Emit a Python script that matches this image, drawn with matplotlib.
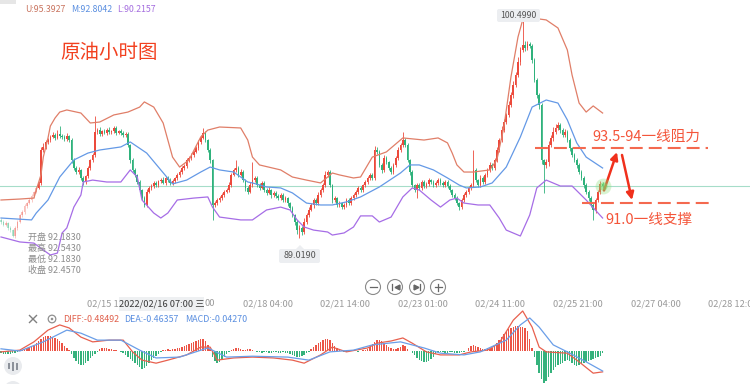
import matplotlib
matplotlib.use("Agg")
import matplotlib.pyplot as plt
from matplotlib.colors import to_rgba
from matplotlib.patches import Circle, Rectangle, Polygon, FancyBboxPatch
from matplotlib.transforms import blended_transform_factory
import numpy as np

plt.rcParams['font.family'] = ['Noto Sans CJK SC', 'DejaVu Sans']

## hourly candles (crude oil), opens follow previous close
first_open = 89.95
closes = [
    89.85, 89.70, 89.80, 89.54, 89.43, 89.12, 89.54, 89.85, 90.22, 90.37,
    90.69, 90.84, 91.00, 91.21, 91.42, 91.63, 91.89, 93.61, 93.77, 94.03,
    94.13, 94.29, 94.39, 94.24, 94.45, 94.34, 94.29, 94.18, 94.34, 94.13,
    93.09, 92.67, 92.46, 92.57, 92.15, 91.94, 92.25, 92.67, 93.09, 93.35,
    94.55, 94.65, 94.45, 94.60, 94.50, 94.65, 94.55, 94.60, 94.76, 94.50,
    94.60, 94.50, 94.39, 94.45, 93.87, 93.09, 92.57, 92.31, 91.94, 91.52,
    91.10, 90.74, 91.42, 91.63, 91.73, 91.89, 91.78, 91.99, 92.04, 91.89,
    92.15, 92.04, 91.89, 91.99, 92.15, 92.31, 92.46, 92.67, 92.77, 93.09,
    93.19, 93.35, 93.51, 93.71, 94.03, 94.24, 94.50, 94.13, 93.61, 93.09,
    90.74, 90.84, 91.00, 91.10, 91.26, 91.42, 91.52, 91.78, 92.31, 92.57,
    92.67, 92.31, 92.46, 92.04, 91.63, 91.42, 91.78, 92.04, 92.15, 91.78,
    91.63, 91.89, 91.52, 91.37, 91.52, 91.26, 91.37, 91.21, 91.10, 91.26,
    91.00, 91.10, 90.84, 90.58, 90.22, 89.85, 89.43, 89.54, 89.33, 89.85,
    90.22, 90.48, 90.74, 91.00, 90.84, 91.26, 91.52, 91.78, 92.31, 92.46,
    91.78, 91.00, 91.10, 90.74, 90.84, 90.63, 90.74, 91.00, 90.84, 91.10,
    91.26, 91.42, 91.63, 91.52, 91.78, 91.94, 92.15, 92.31, 92.15, 93.61,
    93.51, 92.83, 92.57, 93.19, 92.98, 92.67, 92.46, 92.83, 93.19, 93.61,
    93.87, 94.13, 93.87, 93.09, 92.46, 91.78, 91.52, 91.78, 91.63, 91.94,
    91.73, 91.84, 92.04, 91.94, 91.78, 91.89, 92.04, 91.89, 91.78, 91.94,
    91.73, 91.52, 91.26, 91.10, 90.84, 90.63, 91.00, 91.26, 91.42, 91.63,
    91.78, 92.57, 92.04, 91.78, 92.15, 91.94, 92.31, 92.57, 92.83, 92.67,
    93.09, 93.61, 94.13, 94.65, 95.07, 95.44, 95.96, 96.48, 97.00, 97.53,
    98.20, 98.83, 99.09, 98.93, 99.14, 99.04, 98.31, 97.26, 96.48, 95.96,
    93.09, 92.83, 92.98, 93.87, 94.24, 94.55, 94.76, 94.92, 94.65, 94.39,
    94.55, 94.13, 93.71, 93.35, 93.09, 92.83, 92.46, 92.15, 91.78, 91.42,
    91.10, 90.74, 90.48, 91.00, 91.42, 91.84, 91.73]
wick_hi = [
    .10, .08, .10, .05, .08, .05, .10, .08, .05, .10,
    .08, .05, .10, .08, .05, .10, .08, .15, .20, .10,
    .12, .10, .15, .10, .20, .42, .10, .08, .15, .05,
    .10, .08, .10, .15, .05, .10, .08, .10, .05, .10,
    .83, .10, .15, .08, .12, .10, .15, .08, .10, .10,
    .08, .12, .10, .08, .10, .05, .10, .08, .05, .10,
    .08, .10, .15, .10, .08, .12, .10, .08, .10, .15,
    .10, .08, .12, .10, .05, .08, .10, .08, .10, .12,
    .10, .08, .10, .12, .10, .15, .26, .10, .08, .10,
    .05, .10, .08, .12, .10, .08, .10, .15, .10, .12,
    .42, .10, .15, .10, .08, .10, .15, .94, .10, .08,
    .10, .12, .08, .10, .15, .05, .10, .08, .10, .12,
    .08, .10, .05, .08, .10, .05, .10, .15, .10, .20,
    .10, .15, .12, .10, .08, .15, .10, .12, .20, .11,
    .10, .08, .10, .05, .12, .08, .10, .12, .08, .10,
    .08, .10, .12, .10, .08, .10, .12, .10, .08, .20,
    .15, .10, .08, .15, .10, .08, .10, .12, .10, .15,
    .10, .42, .10, .08, .05, .10, .08, .12, .10, .10,
    .08, .10, .12, .08, .10, .08, .10, .12, .08, .10,
    .08, .10, .05, .08, .10, .05, .12, .10, .08, .10,
    .12, 1.04, .10, .08, .15, .10, .12, .10, .15, .10,
    .12, .15, .10, .20, .15, .12, .20, .15, .20, .15,
    .25, .15, 1.41, .20, .15, .12, .10, .08, .10, .08,
    .10, .05, .15, .20, .15, .25, .20, .15, .10, .12,
    .15, .10, .12, .08, .10, .12, .08, .10, .08, .10,
    .08, .10, .15, .12, .10, .15, .10]
wick_lo = [
    .10, .08, .05, .10, .08, .05, .10, .08, .05, .10,
    .08, .10, .05, .08, .10, .05, .08, .10, .08, .10,
    .10, .08, .05, .10, .08, .10, .08, .12, .10, .08,
    .15, .10, .12, .08, .10, .15, .10, .08, .10, .12,
    .10, .08, .10, .12, .08, .10, .08, .10, .12, .10,
    .08, .10, .12, .08, .10, .15, .10, .12, .10, .15,
    .10, .12, .10, .08, .10, .12, .08, .10, .12, .08,
    .10, .08, .12, .10, .08, .10, .12, .08, .10, .08,
    .10, .08, .10, .08, .12, .10, .08, .10, .12, .15,
    .78, .12, .10, .08, .12, .10, .08, .10, .12, .08,
    .10, .12, .08, .10, .15, .10, .08, .10, .12, .10,
    .12, .08, .10, .12, .08, .15, .10, .12, .08, .10,
    .12, .10, .15, .10, .12, .15, .20, .41, .15, .12,
    .10, .12, .08, .15, .10, .12, .10, .08, .10, .12,
    .10, .15, .12, .10, .08, .12, .10, .08, .10, .12,
    .08, .10, .12, .10, .08, .10, .12, .10, .08, .10,
    .10, .12, .15, .10, .12, .08, .10, .12, .10, .08,
    .10, .08, .12, .10, .15, .12, .10, .42, .12, .10,
    .08, .10, .12, .08, .10, .08, .12, .10, .08, .10,
    .12, .10, .08, .12, .10, .15, .10, .12, .08, .10,
    .10, .12, .08, .10, .12, .10, .08, .10, .12, .10,
    .08, .10, .12, .10, .08, .10, .12, .10, .15, .10,
    .12, .15, .10, .15, .12, .10, .15, .12, .15, .20,
    .20, 1.46, .15, .20, .12, .15, .10, .12, .15, .10,
    .12, .10, .15, .12, .10, .15, .12, .10, .15, .12,
    .15, .10, .52, .15, .10, .12, .10]

## Bollinger bands (read at sample bars)
ub_idx = [0, 8, 14, 15, 17, 18, 20, 21, 23, 25, 28, 34, 38, 42, 48, 54, 59, 61, 65, 69,
          73, 76, 80, 85, 88, 93, 102, 105, 107, 110, 119, 124, 130, 136, 139, 141, 144, 150, 153, 158,
          164, 171, 180, 186, 190, 192, 194, 197, 201, 208, 211, 214, 217, 220, 222, 226, 232, 237, 241, 243,
          246, 249, 252, 256]
ub_val = [91.00, 91.05, 91.10, 91.52, 92.31, 93.24, 94.24, 94.86, 95.28, 95.59, 95.70, 95.54, 95.02, 95.07, 95.44, 95.59, 95.85, 96.12, 95.85, 95.02,
          93.24, 92.72, 93.09, 94.29, 94.65, 94.81, 94.76, 94.13, 93.24, 92.83, 92.57, 92.20, 92.04, 91.89, 92.20, 92.41, 92.31, 92.15, 92.20, 93.24,
          93.51, 94.24, 94.13, 94.24, 93.98, 93.45, 92.83, 92.46, 92.46, 92.57, 93.09, 94.81, 97.42, 99.51, 100.40, 100.50, 100.40, 99.98, 98.83, 97.53,
          96.06, 95.59, 95.91, 95.54]
mb_idx = [0, 13, 15, 20, 25, 31, 37, 42, 51, 55, 62, 68, 73, 79, 85, 89, 93, 99, 105, 107,
          113, 119, 124, 130, 136, 141, 147, 153, 161, 170, 174, 178, 184, 190, 195, 198, 204, 209, 215, 221,
          226, 232, 237, 241, 245, 249, 256]
mb_val = [90.06, 89.96, 90.32, 91.00, 92.20, 93.09, 93.45, 93.61, 93.77, 94.03, 93.45, 92.57, 91.84, 92.04, 92.46, 92.72, 92.57, 92.46, 91.94, 91.89,
          91.68, 91.63, 91.37, 90.84, 90.74, 90.74, 90.90, 91.16, 91.68, 92.41, 92.83, 92.83, 92.57, 92.15, 91.78, 91.63, 91.68, 91.89, 92.72, 94.29,
          95.85, 96.22, 96.06, 95.18, 93.98, 93.24, 92.67]
lb_idx = [0, 8, 14, 18, 21, 24, 26, 28, 31, 34, 35, 39, 45, 51, 55, 58, 60, 65, 68, 71,
          75, 82, 88, 90, 93, 102, 107, 113, 119, 123, 126, 129, 133, 139, 141, 146, 150, 153, 158, 161,
          166, 171, 175, 178, 183, 187, 191, 194, 197, 203, 208, 212, 215, 221, 225, 228, 232, 238, 243, 249,
          256]
lb_val = [89.07, 88.81, 88.75, 88.39, 88.13, 88.23, 89.28, 89.54, 90.63, 91.26, 91.94, 92.04, 91.94, 91.94, 92.57, 92.20, 91.00, 90.32, 90.06, 90.32,
          91.00, 91.10, 91.16, 90.63, 90.11, 89.96, 89.96, 90.48, 90.63, 90.48, 89.96, 89.59, 89.43, 89.33, 89.17, 89.28, 89.59, 90.17, 90.17, 89.85,
          90.11, 91.16, 91.63, 91.52, 91.00, 90.63, 91.00, 91.10, 90.84, 90.74, 90.74, 90.06, 89.43, 89.12, 90.22, 91.63, 92.04, 91.73, 91.73, 91.00,
          90.06]

## MACD
macd_hist = [
    -0.05, -0.07, -0.07, -0.07, -0.07, -0.05, -0.05, -0.02,
    0.02, 0.02, 0.05, 0.07, 0.09, 0.12, 0.14, 0.18,
    0.23, 0.28, 0.32, 0.35, 0.35, 0.35, 0.32, 0.30, 0.28,
    0.23, 0.18, 0.12, 0.07, 0.02,
    -0.07, -0.16, -0.23, -0.30, -0.32, -0.32, -0.28, -0.23, -0.16, -0.12, -0.07, -0.02,
    0.05, 0.07, 0.07, 0.07, 0.05, 0.05, 0.02,
    0.02, 0.0, -0.02,
    -0.05, -0.09, -0.14, -0.18, -0.23, -0.28, -0.32, -0.37, -0.41, -0.39, -0.35, -0.28, -0.21, -0.16, -0.12, -0.07, -0.02,
    0.02, 0.02, 0.05, 0.02, 0.05, 0.05, 0.07, 0.07,
    0.09, 0.12, 0.14, 0.16, 0.18, 0.21, 0.23, 0.25, 0.28, 0.28, 0.23, 0.14, 0.05,
    -0.14, -0.23, -0.28, -0.25, -0.21, -0.14, -0.07, -0.02,
    0.02, 0.05, 0.07, 0.07, 0.05, 0.02, 0.02, 0.05, 0.05, 0.02, 0.0,
    -0.02, -0.02, -0.05, -0.02, -0.02, -0.05, -0.05, -0.02, -0.02, -0.05, -0.05, -0.02, -0.05, -0.05, -0.07,
    -0.09, -0.12, -0.14, -0.14, -0.12, -0.09, -0.05, -0.02,
    0.05, 0.09, 0.14, 0.18, 0.21, 0.25, 0.28, 0.28, 0.25, 0.18, 0.12, 0.07, 0.02,
    0.0, -0.02, -0.02, 0.0, 0.02, 0.02, 0.0, -0.02, 0.0, 0.02, 0.02, 0.05,
    0.09, 0.16, 0.21, 0.25, 0.25, 0.23, 0.18, 0.14, 0.09,
    0.07, 0.05, 0.05, 0.07, 0.09, 0.14, 0.12,
    0.05, 0.0,
    -0.05, -0.09, -0.16, -0.21, -0.23, -0.25, -0.25, -0.23, -0.18, -0.14, -0.07, -0.02,
    -0.02, -0.02, -0.05, -0.05, -0.02, -0.02, -0.05, -0.05, -0.05, -0.02, -0.02, 0.0,
    0.07, 0.12, 0.14, 0.12, 0.09, 0.07,
    0.05, 0.05, 0.07, 0.05, 0.07,
    0.12, 0.18, 0.25, 0.32, 0.39,
    0.46, 0.51, 0.53, 0.55, 0.58, 0.58, 0.55, 0.55, 0.53, 0.46,
    0.28, 0.07,
    -0.14, -0.32, -0.51, -0.64, -0.74, -0.69, -0.60, -0.51, -0.44, -0.37,
    -0.32, -0.30, -0.28, -0.23, -0.21, -0.23, -0.28, -0.32, -0.35, -0.32,
    -0.30, -0.28, -0.25, -0.23, -0.21, -0.18, -0.16, -0.14, -0.12, -0.05]
dif_idx = [0, 8, 14, 20, 25, 29, 34, 39, 46, 52, 56, 60, 66, 71, 79, 85, 89, 92, 99, 107,
           116, 124, 129, 136, 141, 147, 156, 160, 166, 171, 175, 181, 187, 195, 200, 207, 212, 218, 222, 226,
           229, 232, 241, 246, 252, 256]
dif_val = [-0.02, 0.02, 0.21, 0.48, 0.60, 0.53, 0.32, 0.21, 0.25, 0.25, -0.02, -0.21, -0.28, -0.21, -0.09, 0.09, 0.09, -0.21, -0.16, -0.14,
           -0.16, -0.21, -0.28, -0.09, 0.09, -0.02, 0.07, 0.18, 0.23, 0.30, 0.18, -0.02, -0.09, -0.09, -0.02, 0.02, 0.18, 0.71, 0.92, 0.55,
           0.09, -0.02, -0.05, -0.25, -0.51, -0.48]
dea_idx = [0, 8, 18, 28, 34, 41, 51, 59, 66, 76, 88, 96, 107, 122, 131, 140, 150, 158, 170, 180,
           187, 197, 204, 215, 221, 225, 229, 235, 241, 249, 256]
dea_val = [0.05, 0.0, 0.21, 0.48, 0.41, 0.25, 0.25, 0.02, -0.16, -0.14, 0.07, -0.14, -0.12, -0.14, -0.21, -0.02, 0.02, 0.14, 0.21, 0.07,
           -0.05, -0.09, -0.02, 0.25, 0.60, 0.76, 0.55, 0.14, -0.02, -0.25, -0.46]

# time axis: the first two labels are partly hidden by the crosshair box
time_labels = ['02/15 1', '00', '02/18 04:00', '02/21 14:00', '02/23 01:00',
               '02/24 11:00', '02/25 21:00', '02/27 04:00', '02/28 12:00']
time_pos = [43.4, 88.7, 113.5, 146.5, 179.5, 212.5, 245.5, 278.5, 311.5]
cross_label = '2022/02/16 07:00 三'

tooltip = [('开盘', '92.1830'), ('最高', '92.5430'), ('最低', '92.1830'), ('收盘', '92.4570')]
boll_text = [('U:95.3927', '#c9745f'), ('M:92.8042', '#5b8fe0'), ('L:90.2157', '#a46ddf')]
macd_text = [('DIFF:-0.48492', '#e0604c'), ('DEA:-0.46357', '#5b8fe0'), ('MACD:-0.04270', '#5b8fe0')]
res_level, sup_level = 93.71, 90.85
peak_label, low_label = '100.4990', '89.0190'

RED, GREEN = '#ec4a3c', '#2fb27c'

## canvas in pixels
W, H = 750, 384
X0, DX = 1.0, 2.35
def ix(px):
    return (px - X0) / DX
P0, PS = 101.44, 0.0522
M0, MS = 351, 0.023

fig = plt.figure(figsize=(7.5, 3.84), dpi=100)
fig.patch.set_facecolor('white')

ax = fig.add_axes([0, 1 - 292 / H, 1, 292 / H])
ax.set_xlim(ix(0), ix(W))
ax.set_ylim(P0 - PS * 292, P0)
ax.axis('off')

axm = fig.add_axes([0, 0, 1, (H - 308) / H])
axm.set_xlim(ix(0), ix(W))
axm.set_ylim((M0 - H) * MS, (M0 - 308) * MS)
axm.axis('off')

ui = fig.add_axes([0, 0, 1, 1], zorder=5)
ui.set_xlim(0, W)
ui.set_ylim(H, 0)
ui.axis('off')
ui.patch.set_alpha(0)

## candles
n = len(closes)
idx = np.arange(n)
c = np.array(closes)
o = np.array([first_open] + closes[:-1])
hi = np.maximum(o, c) + np.array(wick_hi)
lo = np.minimum(o, c) - np.array(wick_lo)
cols = []
for i in range(n):
    a = 0.35 if i < 16 else 1.0
    cols.append(to_rgba(RED if c[i] >= o[i] else GREEN, a))

ax.axhline(c[-1], color='#a6ddc9', lw=0.8, zorder=1)
ax.vlines(idx, lo, hi, colors=cols, lw=0.6, zorder=2)
ax.bar(idx, np.maximum(np.abs(c - o), 0.03), bottom=np.minimum(o, c), width=0.72,
       color=cols, linewidth=0, zorder=3)

ax.plot(ub_idx, ub_val, color='#e07e68', lw=0.9, zorder=4)
ax.plot(mb_idx, mb_val, color='#6499e6', lw=0.9, zorder=4)
ax.plot(lb_idx, lb_val, color='#a66de6', lw=0.9, zorder=4)

# glow on last bar
ax.scatter([n - 1], [c[-1]], s=130, color='#8fe07c', alpha=0.35, lw=0, zorder=6)
ax.scatter([n - 1], [c[-1]], s=35, color='#7bd86a', alpha=0.5, lw=0, zorder=6)

# levels + arrows
ax.hlines(res_level, ix(535), ix(708), colors='#f4694f', linestyles=(0, (6.2, 2.9)), lw=1.5, zorder=5)
ax.hlines(sup_level, ix(582), ix(710), colors='#f4694f', linestyles=(0, (6.2, 2.9)), lw=1.5, zorder=5)
ax.annotate('', xy=(ix(617), 93.50), xytext=(ix(604), 91.50),
            arrowprops=dict(arrowstyle='-|>', color='#f0301c', lw=1.8, mutation_scale=11, shrinkA=0, shrinkB=0))
ax.annotate('', xy=(ix(632), 91.00), xytext=(ix(622), 93.35),
            arrowprops=dict(arrowstyle='-|>', color='#f0301c', lw=1.8, mutation_scale=11, shrinkA=0, shrinkB=0))

## MACD panel
hist = np.array(macd_hist)
axm.bar(idx, hist, width=0.62, color=np.where(hist >= 0, '#ec5446', '#35b27c'), linewidth=0)
axm.plot(dif_idx, dif_val, color='#e8604e', lw=0.9)
axm.plot(dea_idx, dea_val, color='#6a9ee8', lw=0.9)

## texts and widgets (pixel coords)
ui.add_patch(Rectangle((0, 0), 16, 4, fc='#e6e6e6', ec='none'))
xx = 25
for t, col in boll_text:
    ui.text(xx, 10, t, color=col, fontsize=6.3, va='center', ha='left')
    xx += 46
ui.text(60, 52, '原油小时图', color='#f2401f', fontsize=14, va='center', ha='left')
for k, (a, b) in enumerate(tooltip):
    ui.text(28, 237 + 11 * k, a + ' ' + b, color='#8c8c8c', fontsize=6.5, va='center', ha='left')

ui.text(592, 137, '93.5-94一线阻力', color='#f4553a', fontsize=10.5, va='center', ha='left')
ui.text(605, 220, '91.0一线支撑', color='#f4553a', fontsize=10.5, va='center', ha='left')

ui.add_patch(FancyBboxPatch((497, 9), 43, 13, boxstyle='round,pad=0,rounding_size=2', fc='#eceef1', ec='none'))
ui.text(518.5, 15.5, peak_label, color='#555555', fontsize=6.3, va='center', ha='center')
ui.add_patch(FancyBboxPatch((279, 249), 41, 14, boxstyle='round,pad=0,rounding_size=2', fc='#eceef1', ec='none'))
ui.add_patch(Polygon([[296, 249], [300, 245], [304, 249]], fc='#eceef1', ec='none'))
ui.text(299.5, 256, low_label, color='#555555', fontsize=6.5, va='center', ha='center')

# zoom buttons
for bx in [373, 395, 417, 438]:
    ui.add_patch(Circle((bx, 287), 7.5, fc='white', ec='#8a8a8a', lw=0.8))
ui.plot([369.5, 376.5], [287, 287], color='#666666', lw=0.9)
ui.plot([434.5, 441.5], [287, 287], color='#666666', lw=0.9)
ui.plot([438, 438], [283.5, 290.5], color='#666666', lw=0.9)
ui.plot([392, 392], [284, 290], color='#666666', lw=0.9)
ui.plot([396.5], [287], marker='<', ms=3.5, color='#666666')
ui.plot([415.5], [287], marker='>', ms=3.5, color='#666666')
ui.plot([420, 420], [284, 290], color='#666666', lw=0.9)

# time axis
tr = blended_transform_factory(ax.transData, ui.transData)
for lab, p in zip(time_labels, time_pos):
    ui.text(p, 304, lab, transform=tr, color='#9a9a9a', fontsize=6.7, va='center', ha='center')
ui.add_patch(Rectangle((119, 297), 85, 14, fc='#eef0f2', ec='none', zorder=6))
ui.text(161.5, 304, cross_label, color='#3a3a3a', fontsize=6.7, va='center', ha='center', zorder=7)

# MACD legend
ui.plot([29.5, 36.5], [315.5, 322.5], color='#808080', lw=1)
ui.plot([29.5, 36.5], [322.5, 315.5], color='#808080', lw=1)
ui.add_patch(Circle((52, 319), 3.8, fc='none', ec='#909090', lw=0.9))
ui.add_patch(Circle((52, 319), 1.3, fc='#909090', ec='none'))
xx = 63
for t, col in macd_text:
    ui.text(xx, 319, t, color=col, fontsize=6.4, va='center', ha='left')
    xx += 61

# side icons
for cy in [366, 390]:
    ui.add_patch(Circle((13, cy), 9, fc='#e9ebee', ec='none'))
for dx_, h_ in [(-4, 4), (0, 7), (4, 5)]:
    ui.plot([13 + dx_, 13 + dx_], [366 + h_ / 2, 366 - h_ / 2], color='#8a8f98', lw=1.4)

fig.savefig('out.png', dpi=100, facecolor='white')
